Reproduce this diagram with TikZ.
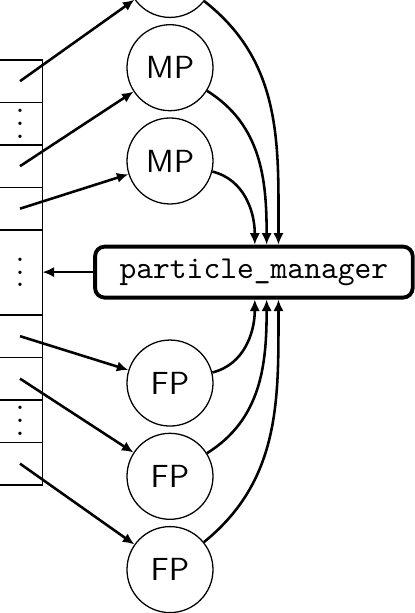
\documentclass[tikz,border=0pt]{standalone}
\usepackage{amsmath,amssymb}
\usepackage{tikz}
\usetikzlibrary{positioning, calc, arrows.meta}

\begin{document}
\begin{tikzpicture}[
    cell/.style={rectangle, draw, thin, minimum width=0.494cm,
                 minimum height=0.467cm, inner sep=0pt, outer sep=0pt,
                 text height=9pt, text depth=0pt},
    bigcell/.style={cell, minimum height=0.934cm},
    proc/.style={circle, draw, thin, minimum size=0.945cm, inner sep=0pt,
                 font=\sffamily},
    manager/.style={rectangle, draw, very thick, rounded corners=3pt,
                    minimum width=3.49cm, minimum height=0.56cm,
                    font=\ttfamily},
    arr/.style={-{Latex[length=3.6pt,width=3.2pt]}, thick},
  ]
    \useasboundingbox (0,0) rectangle (4.56,-6.736);
    \clip (0,0) rectangle (4.56,-6.736);

    % Manager in the middle
    \node[manager] (pm) at (2.79,-2.99) {particle\_manager};

    % Left: the particle array
    \node[cell] (c1) at (0.22,-0.892) {};
    \node[cell, below=0pt of c1] (c2) {$\vdots$};
    \node[cell, below=0pt of c2] (c3) {};
    \node[cell, below=0pt of c3] (c4) {};
    \node[bigcell, below=0pt of c4] (c5) {$\vdots$};
    \node[cell, below=0pt of c5] (c6) {};
    \node[cell, below=0pt of c6] (c7) {};
    \node[cell, below=0pt of c7] (c8) {$\vdots$};
    \node[cell, below=0pt of c8] (c9) {};

    % Right: MP and FP processes
    \node[proc] (mp1) at (1.868,0.281) {MP};
    \node[proc] (mp2) at (1.868,-0.744) {MP};
    \node[proc] (mp3) at (1.868,-1.769) {MP};
    \node[proc] (fp1) at (1.868,-4.209) {FP};
    \node[proc] (fp2) at (1.868,-5.234) {FP};
    \node[proc] (fp3) at (1.868,-6.259) {FP};

    % Array cells -> processes
    \foreach \c/\p in {c1/mp1, c3/mp2, c4/mp3, c6/fp1, c7/fp2, c9/fp3} {
      \draw[arr] (\c.center) -- (\p);
    }

    % Processes -> manager
    \draw[arr] (mp3) to[out=-14, in=90] ([xshift=0.01cm]pm.north);
    \draw[arr] (mp2) to[out=-32, in=90] ([xshift=0.14cm]pm.north);
    \draw[arr] (mp1) to[out=-38, in=90] ([xshift=0.27cm]pm.north);
    \draw[arr] (fp1) to[out=14, in=-90] ([xshift=0.01cm]pm.south);
    \draw[arr] (fp2) to[out=32, in=-90] ([xshift=0.14cm]pm.south);
    \draw[arr] (fp3) to[out=39, in=-90] ([xshift=0.27cm]pm.south);

    % Manager -> array
    \draw[arr] (pm.west) -- (pm.west -| c5.east);
  \end{tikzpicture}
\end{document}
